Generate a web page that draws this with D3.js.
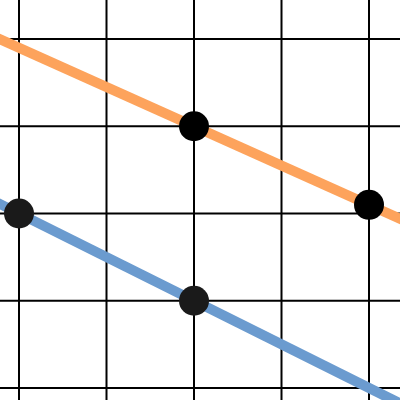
<!DOCTYPE html>
<html><head><meta charset="utf-8">
<script src="https://cdn.jsdelivr.net/npm/d3@7"></script>
<style>body{margin:0;background:#fff}</style>
</head><body>
<svg id="chart" width="400" height="400"></svg>
<script>
var gridX = [0, 1, 2, 3, 4];
var gridY = [0, 1, 2, 3, 4];
var orangeX = [2, 4];
var orangeY = [3, 2.1];
var blueX = [0, 2];
var blueY = [2, 1];

var svg = d3.select("#chart");
var x = d3.scaleLinear().domain([0, 4]).range([19, 369]);
var y = d3.scaleLinear().domain([0, 4]).range([388, 39]);
var xMin = x.invert(-5), xMax = x.invert(405);

svg.selectAll(".vx").data(gridX).enter().append("line")
  .attr("x1", d => x(d)).attr("x2", d => x(d)).attr("y1", 0).attr("y2", 400)
  .attr("stroke", "#000").attr("stroke-width", 2);
svg.selectAll(".hy").data(gridY).enter().append("line")
  .attr("y1", d => y(d)).attr("y2", d => y(d)).attr("x1", 0).attr("x2", 400)
  .attr("stroke", "#000").attr("stroke-width", 2);

function drawLine(xs, ys, color, dot) {
  var m = (ys[1] - ys[0]) / (xs[1] - xs[0]);
  var f = function(v) { return ys[0] + m * (v - xs[0]); };
  svg.append("line")
    .attr("x1", x(xMin)).attr("y1", y(f(xMin)))
    .attr("x2", x(xMax)).attr("y2", y(f(xMax)))
    .attr("stroke", color).attr("stroke-width", 10);
  svg.selectAll(null).data(xs).enter().append("circle")
    .attr("cx", d => x(d)).attr("cy", (d, i) => y(ys[i]))
    .attr("r", 15).attr("fill", dot);
}
drawLine(orangeX, orangeY, "#fda35c", "#000");
drawLine(blueX, blueY, "#6b9bcf", "#1a1a1a");
</script>
</body></html>
